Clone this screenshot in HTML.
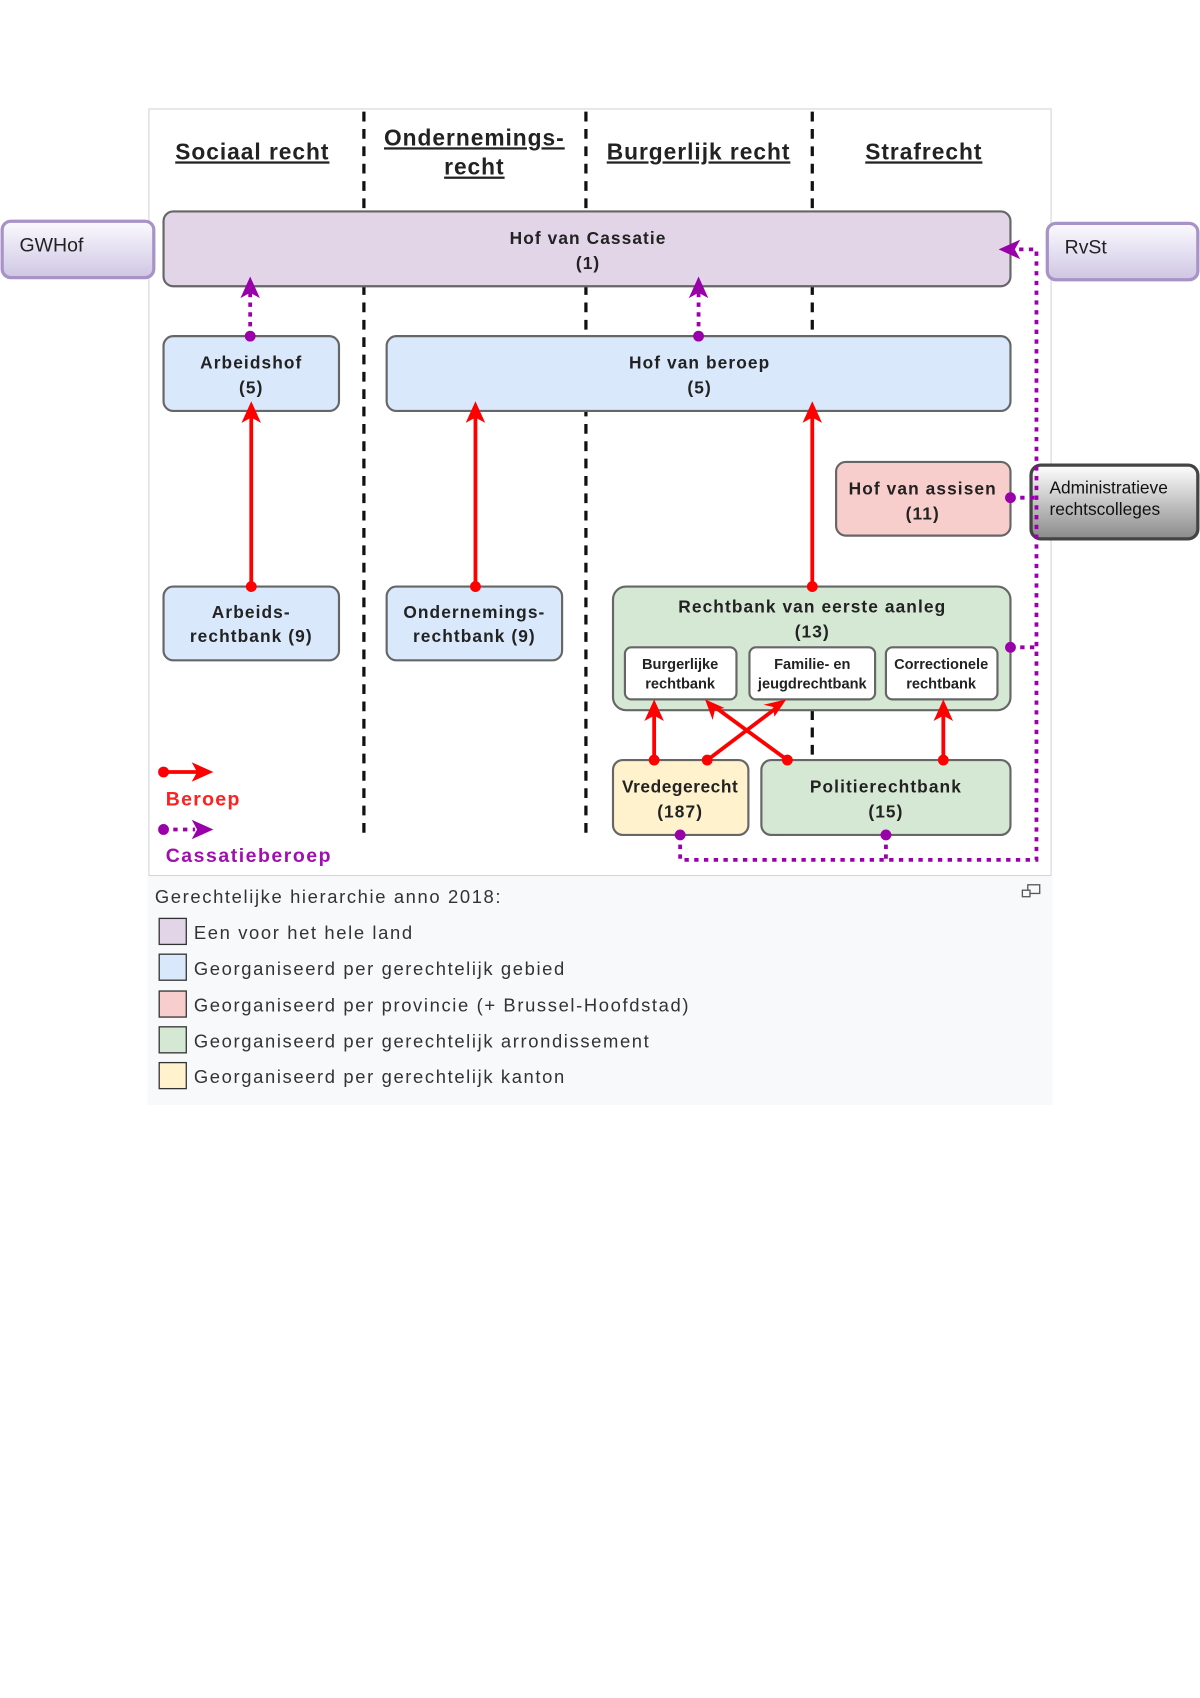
<!DOCTYPE html>
<html><head><meta charset="utf-8"><style>
html,body{margin:0;padding:0;background:#fff;}
svg{display:block;}
text{font-family:"Liberation Sans",Arial,sans-serif;}
</style></head><body>
<svg width="1200" height="1698" viewBox="0 0 1108 1566" preserveAspectRatio="none" xmlns="http://www.w3.org/2000/svg">
<defs>
<linearGradient id="gp" x1="0" y1="0" x2="0" y2="1"><stop offset="0" stop-color="#fbfaff"/><stop offset="1" stop-color="#cfc6e3"/></linearGradient>
<linearGradient id="gg" x1="0" y1="0" x2="0" y2="1"><stop offset="0" stop-color="#ffffff"/><stop offset="1" stop-color="#8a8a8a"/></linearGradient>
</defs>
<rect x="137.5" y="100.5" width="833" height="707" fill="#fff" stroke="#d0d4da"/>
<rect x="136" y="808" width="836" height="211" fill="#f8f9fa"/>
<g stroke="#111" stroke-width="3" stroke-dasharray="9,7" fill="none">
<line x1="336" y1="103" x2="336" y2="770"/>
<line x1="541" y1="103" x2="541" y2="770"/>
<line x1="750" y1="103" x2="750" y2="310"/>
<line x1="750" y1="655" x2="750" y2="700"/>
</g>
<g font-size="21" font-weight="bold" fill="#222" text-anchor="middle" text-decoration="underline" letter-spacing="0.9">
<text x="233" y="147">Sociaal recht</text>
<text x="438" y="134">Ondernemings-</text>
<text x="438" y="161">recht</text>
<text x="645" y="147">Burgerlijk recht</text>
<text x="853" y="147">Strafrecht</text>
</g>
<rect x="2" y="204" width="140" height="52" rx="8" fill="url(#gp)" stroke="#a893c6" stroke-width="3"/>
<text x="18" y="232" font-size="18" fill="#222">GWHof</text>
<rect x="967" y="206" width="139" height="52" rx="8" fill="url(#gp)" stroke="#a893c6" stroke-width="3"/>
<text x="983" y="234" font-size="18" fill="#222">RvSt</text>
<rect x="952" y="429" width="154" height="68" rx="9" fill="url(#gg)" stroke="#444" stroke-width="3"/>
<text x="969" y="455" font-size="16" fill="#111">Administratieve</text>
<text x="969" y="475" font-size="16" fill="#111">rechtscolleges</text>
<g stroke="#666" stroke-width="2">
<rect x="151" y="195" width="782" height="69" rx="9" fill="#e1d5e7"/>
<rect x="151" y="310" width="162" height="69" rx="9" fill="#dae8fc"/>
<rect x="357" y="310" width="576" height="69" rx="9" fill="#dae8fc"/>
<rect x="772" y="426" width="161" height="68" rx="9" fill="#f8cecc"/>
<rect x="151" y="541" width="162" height="68" rx="9" fill="#dae8fc"/>
<rect x="357" y="541" width="162" height="68" rx="9" fill="#dae8fc"/>
<rect x="566" y="541" width="367" height="114" rx="12" fill="#d5e8d4"/>
<rect x="577" y="597" width="103" height="48" rx="6" fill="#fff"/>
<rect x="692" y="597" width="116" height="48" rx="6" fill="#fff"/>
<rect x="818" y="597" width="103" height="48" rx="6" fill="#fff"/>
<rect x="566" y="701" width="125" height="69" rx="9" fill="#fff2cc"/>
<rect x="703" y="701" width="230" height="69" rx="9" fill="#d5e8d4"/>
</g>
<g font-size="16" font-weight="bold" fill="#222" text-anchor="middle" letter-spacing="1">
<text x="543" y="225">Hof van Cassatie</text><text x="543" y="248">(1)</text>
<text x="232" y="340">Arbeidshof</text><text x="232" y="363">(5)</text>
<text x="646" y="340">Hof van beroep</text><text x="646" y="363">(5)</text>
<text x="852" y="456">Hof van assisen</text><text x="852" y="479">(11)</text>
<text x="232" y="570">Arbeids-</text><text x="232" y="592">rechtbank (9)</text>
<text x="438" y="570">Ondernemings-</text><text x="438" y="592">rechtbank (9)</text>
<text x="750" y="565">Rechtbank van eerste aanleg</text><text x="750" y="588">(13)</text>
<text x="628" y="731" letter-spacing="0.5">Vredegerecht</text><text x="628" y="754">(187)</text>
<text x="818" y="731">Politierechtbank</text><text x="818" y="754">(15)</text>
</g>
<g font-size="13.5" font-weight="bold" fill="#222" text-anchor="middle">
<text x="628" y="617">Burgerlijke</text><text x="628" y="635">rechtbank</text>
<text x="750" y="617">Familie- en</text><text x="750" y="635">jeugdrechtbank</text>
<text x="869" y="617">Correctionele</text><text x="869" y="635">rechtbank</text>
</g>
<g stroke="#ff0000" stroke-width="3.5" fill="none">
<line x1="232" y1="541" x2="232" y2="380"/>
<line x1="439" y1="541" x2="439" y2="380"/>
<line x1="750" y1="541" x2="750" y2="380"/>
<line x1="604" y1="701" x2="604" y2="656"/>
<line x1="653" y1="701" x2="718" y2="652"/>
<line x1="727" y1="701" x2="660" y2="652"/>
<line x1="871" y1="701" x2="871" y2="656"/>
<line x1="147" y1="712" x2="185" y2="712"/>
</g>
<g fill="#ff0000">
<circle cx="232" cy="541" r="5"/><path d="M232 370 l-9 20 l9 -5 l9 5z"/>
<circle cx="439" cy="541" r="5"/><path d="M439 370 l-9 20 l9 -5 l9 5z"/>
<circle cx="750" cy="541" r="5"/><path d="M750 370 l-9 20 l9 -5 l9 5z"/>
<circle cx="604" cy="701" r="5"/><path d="M604 645 l-9 20 l9 -5 l9 5z"/>
<circle cx="871" cy="701" r="5"/><path d="M871 645 l-9 20 l9 -5 l9 5z"/>
<circle cx="653" cy="701" r="5"/><path d="M726 645 l-21 5 l9 2 l1 9z"/>
<circle cx="727" cy="701" r="5"/><path d="M651 645 l7 19 l2 -9 l9 -2z"/>
<circle cx="151" cy="712" r="5"/><path d="M197 712 l-20 -9 l5 9 l-5 9z"/>
</g>
<g stroke="#9900aa" stroke-width="3.5" stroke-dasharray="4,5" fill="none">
<line x1="231" y1="310" x2="231" y2="268"/>
<line x1="645" y1="310" x2="645" y2="268"/>
<polyline points="628,770 628,793 957,793 957,230 935,230"/>
<line x1="818" y1="770" x2="818" y2="793"/>
<line x1="933" y1="459" x2="955" y2="459"/>
<line x1="933" y1="597" x2="957" y2="597"/>
<line x1="151" y1="765" x2="180" y2="765"/>
</g>
<g fill="#9900aa">
<circle cx="231" cy="310" r="5"/><path d="M231 255 l-9 20 l9 -5 l9 5z"/>
<circle cx="645" cy="310" r="5"/><path d="M645 255 l-9 20 l9 -5 l9 5z"/>
<circle cx="628" cy="770" r="5"/><circle cx="818" cy="770" r="5"/>
<circle cx="933" cy="459" r="5"/><circle cx="933" cy="597" r="5"/>
<path d="M922 230 l20 -9 l-5 9 l5 9z"/>
<circle cx="151" cy="765" r="5"/><path d="M197 765 l-20 -9 l5 9 l-5 9z"/>
</g>
<text x="153" y="743" font-size="18" font-weight="bold" fill="#ff2020" letter-spacing="1.2">Beroep</text>
<text x="153" y="795" font-size="18" font-weight="bold" fill="#a010b0" letter-spacing="1.4">Cassatieberoep</text>
<g font-size="17" fill="#333" letter-spacing="1.5">
<text x="143" y="833">Gerechtelijke hierarchie anno 2018:</text>
<text x="179" y="866">Een voor het hele land</text>
<text x="179" y="899">Georganiseerd per gerechtelijk gebied</text>
<text x="179" y="933">Georganiseerd per provincie (+ Brussel-Hoofdstad)</text>
<text x="179" y="966">Georganiseerd per gerechtelijk arrondissement</text>
<text x="179" y="999">Georganiseerd per gerechtelijk kanton</text>
</g>
<g stroke="#333" stroke-width="1.2">
<rect x="147" y="847" width="25" height="24" fill="#e1d5e7"/>
<rect x="147" y="880" width="25" height="24" fill="#dae8fc"/>
<rect x="147" y="914" width="25" height="24" fill="#f8cecc"/>
<rect x="147" y="947" width="25" height="24" fill="#d5e8d4"/>
<rect x="147" y="980" width="25" height="24" fill="#fff2cc"/>
</g>
<g stroke="#555" stroke-width="1.2" fill="none">
<rect x="949" y="816" width="11" height="8"/><rect x="944" y="821" width="7" height="6" fill="#f8f9fa"/>
</g>
</svg>
</body></html>
